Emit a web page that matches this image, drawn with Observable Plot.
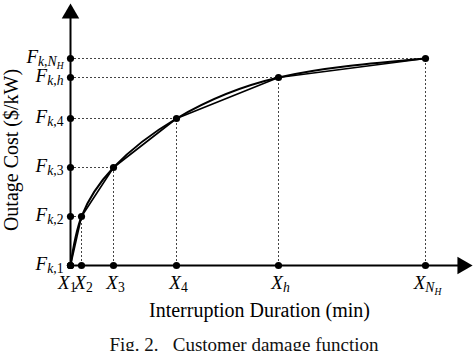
<!DOCTYPE html>
<html><head><meta charset="utf-8">
<script src="https://cdn.jsdelivr.net/npm/d3@7"></script>
<script src="https://cdn.jsdelivr.net/npm/@observablehq/plot@0.6"></script>
<style>
body{margin:0;background:#fff;font-family:"Liberation Serif",serif;}
#cap{width:474px;box-sizing:border-box;padding-left:14px;text-align:center;font-size:19px;line-height:19px;margin-top:5px;color:#111;}
</style>
</head><body>
<div id="chart"></div>
<div id="cap">Fig. 2.&nbsp;&nbsp;&nbsp;Customer damage function</div>
<script>
// Breakpoints of the piecewise damage function (arbitrary units)
const durations = [0, 11, 43, 106, 208, 355];
const costs = [0, 49, 98, 147, 188, 207];
const xLabels = ["X_1", "X_2", "X_3", "X_4", "X_h", "X_{N_H}"];
const yLabels = ["F_{k,1}", "F_{k,2}", "F_{k,3}", "F_{k,4}", "F_{k,h}", "F_{k,N_H}"];
const xAxisEnd = 402;
const yAxisEnd = 262;
const xTitle = "Interruption Duration (min)";
const yTitle = "Outage Cost ($/kW)";

const pts = durations.map((x, i) => ({x, y: costs[i]}));
const dash = {stroke: "#444", strokeWidth: 1, strokeDasharray: "2,2"};
const Y_FONT = 19, X_FONT = 19;

const plot = Plot.plot({
  width: 474, height: 330,
  marginLeft: 70, marginRight: 0, marginTop: 0, marginBottom: 65,
  x: {domain: [0, 404], axis: null},
  y: {domain: [0, 265], axis: null},
  style: {fontFamily: "Liberation Serif", background: "#fff", color: "#000"},
  marks: [
    Plot.ruleY(pts, {y: "y", x1: 0, x2: "x", ...dash}),
    Plot.ruleX(pts, {x: "x", y1: 0, y2: "y", ...dash}),
    Plot.ruleY([0], {x1: 0, x2: xAxisEnd - 12, stroke: "#000", strokeWidth: 2}),
    Plot.ruleX([0], {y1: 0, y2: yAxisEnd - 12, stroke: "#000", strokeWidth: 2}),
    Plot.dot([0], {x: xAxisEnd, y: 0, dx: -10, symbol: "triangle", rotate: 90, r: 6.5, fill: "#000", stroke: "none"}),
    Plot.dot([0], {x: 0, y: yAxisEnd, dy: 10, symbol: "triangle", r: 6.5, fill: "#000", stroke: "none"}),
    Plot.line(pts, {x: "x", y: "y", curve: "natural", stroke: "#000", strokeWidth: 2}),
    Plot.line(pts, {x: "x", y: "y", stroke: "#000", strokeWidth: 1.6}),
    Plot.dot(pts, {x: "x", y: "y", r: 3.6, fill: "#000", stroke: "none"}),
    Plot.dot(durations, {x: d => d, y: 0, r: 3.6, fill: "#000", stroke: "none"}),
    Plot.dot(costs, {x: 0, y: d => d, r: 3.6, fill: "#000", stroke: "none"}),
    Plot.text(costs, {x: 0, y: d => d, text: yLabels, textAnchor: "end", dx: -7, dy: 4, fontSize: Y_FONT, fill: "#000"}),
    Plot.text(durations, {filter: (d, i) => i === 0, x: d => d, y: 0, text: xLabels, textAnchor: "end", dx: 6, dy: 23, fontSize: X_FONT, fill: "#000"}),
    Plot.text(durations, {filter: (d, i) => i > 0, x: d => d, y: 0, text: xLabels, dx: 2, dy: 23, fontSize: X_FONT, fill: "#000"}),
    Plot.text([xTitle], {frameAnchor: "bottom", textAnchor: "middle", lineAnchor: "middle", dx: -13, dy: 45, fontSize: 20, fill: "#000"}),
    Plot.text([yTitle], {frameAnchor: "left", textAnchor: "middle", lineAnchor: "middle", rotate: -90, dx: -59, dy: 17, fontSize: 20, fill: "#000"})
  ]
});
document.getElementById("chart").appendChild(plot);

// Render TeX-like subscripts as real tspans
function parseTeX(s, level = 0, out = []) {
  let i = 0;
  while (i < s.length) {
    const c = s[i];
    if (c === "_") {
      i++;
      let sub;
      if (s[i] === "{") {
        let depth = 1, j = i + 1;
        while (depth) { if (s[j] === "{") depth++; else if (s[j] === "}") depth--; j++; }
        sub = s.slice(i + 1, j - 1); i = j;
      } else { sub = s[i]; i++; }
      parseTeX(sub, level + 1, out);
    } else { out.push({ch: c, level}); i++; }
  }
  return out;
}
function renderTeX(textEl, base) {
  const sel = d3.select(textEl);
  const segs = parseTeX(textEl.textContent);
  const groups = [];
  for (const s of segs) {
    const it = /[A-Za-z]/.test(s.ch);
    const g = groups[groups.length - 1];
    if (g && g.level === s.level && g.it === it) g.text += s.ch;
    else groups.push({text: s.ch, level: s.level, it});
  }
  sel.text(null).attr("y", 0).attr("dy", null);
  const sizes = [base, base * 0.72, base * 0.5];
  const offs = [0, 3, 6];
  let cur = 0;
  for (const g of groups) {
    sel.append("tspan")
      .style("font-size", sizes[g.level] + "px")
      .style("font-style", g.it ? "italic" : "normal")
      .attr("dy", offs[g.level] - cur)
      .text(g.text);
    cur = offs[g.level];
  }
}
d3.select(plot).selectAll("text").each(function() {
  const t = this.textContent;
  if (yLabels.includes(t)) renderTeX(this, Y_FONT);
  else if (xLabels.includes(t)) renderTeX(this, X_FONT);
});
</script>
</body></html>
